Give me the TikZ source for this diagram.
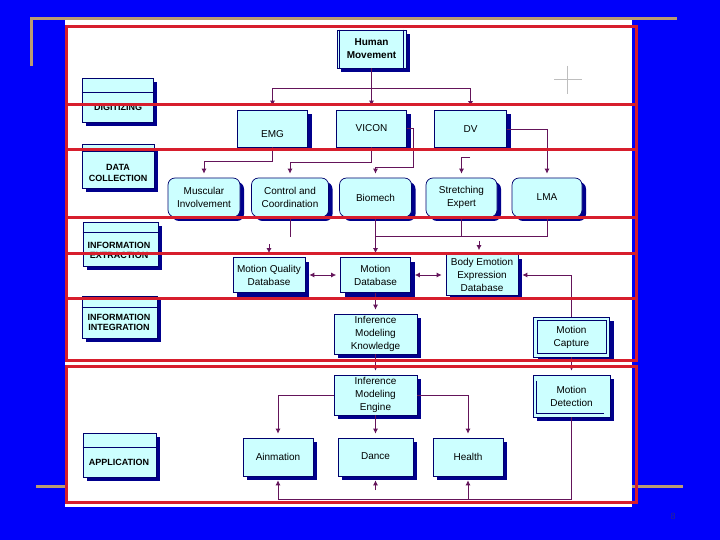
\documentclass[tikz,border=0pt]{standalone}
\usepackage{fontspec}
\setmainfont{Liberation Sans}
\usetikzlibrary{shadows,arrows.meta,calc}
\definecolor{bgblue}{RGB}{0,0,250}
\definecolor{boxc}{RGB}{204,255,255}
\definecolor{bordc}{RGB}{0,0,110}
\definecolor{shadc}{RGB}{0,0,140}
\definecolor{connc}{RGB}{100,20,90}
\definecolor{redc}{RGB}{215,30,45}
\definecolor{tanc}{RGB}{185,155,115}
\definecolor{crossc}{RGB}{190,190,190}
\definecolor{numc}{RGB}{40,40,140}
\begin{document}
\begin{tikzpicture}[x=1pt,y=-1pt,
 box/.style={draw=bordc, fill=boxc, line width=0.7pt, align=center, inner sep=1pt,
   font=\fontsize{10}{13}\selectfont,
   drop shadow={shadow xshift=4pt, shadow yshift=-4pt, fill=shadc, opacity=1}},
 rbox/.style={box, rounded corners=7pt},
 lbox/.style={box, inner sep=0pt},
 ltext/.style={font=\bfseries\fontsize{9}{10.5}\selectfont, align=center, inner sep=0pt},
 inl/.style={draw=bordc, line width=0.6pt},
 conn/.style={draw=connc, line width=0.8pt},
 arr/.style={conn, -{Latex[length=5pt,width=5pt]}, shorten >=4pt},
 darr/.style={conn, {Latex[length=5pt,width=5pt]}-{Latex[length=5pt,width=5pt]}, shorten >=4pt, shorten <=4pt},
 redl/.style={draw=redc, line width=3pt},
 tanl/.style={draw=tanc, line width=3pt},
]
\useasboundingbox (0,0) rectangle (720,540);
\fill[bgblue] (0,0) rectangle (720,540);
% tan decoration lines
\draw[tanl] (31,66) -- (31,19) -- (677,19);
\draw[tanl] (36,486) -- (683,486);
% white panel
\fill[white] (65,20) rectangle (632,507);
% crosshair
\draw[crossc, line width=0.6pt] (554,79) -- (582,79);
\draw[crossc, line width=0.6pt] (567,66) -- (567,94);

% left label boxes
\node[lbox, minimum width=71pt, minimum height=44pt] (digbox) at (117.5,100) {};
\draw[inl] (digbox.west |- 0,92) -- (digbox.east |- 0,92);
\node[ltext] (digt) at (118,107) {DIGITIZING};
\node[lbox, minimum width=72pt, minimum height=44pt] (dcbox) at (118,166) {};
\draw[inl] (dcbox.west |- 0,151) -- (dcbox.east |- 0,151);
\node[ltext] (dct) at (118,173) {DATA\\COLLECTION};
\node[lbox, minimum width=75pt, minimum height=44pt] (iebox) at (120.5,244) {};
\draw[inl] (iebox.west |- 0,232) -- (iebox.east |- 0,232);
\node[ltext] (iet) at (119,250.5) {INFORMATION\\EXTRACTION};
\node[lbox, minimum width=75pt, minimum height=42pt] (iibox) at (119.5,317) {};
\draw[inl] (iibox.west |- 0,307) -- (iibox.east |- 0,307);
\node[ltext] (iit) at (119,322.5) {INFORMATION\\INTEGRATION};
\node[lbox, minimum width=73pt, minimum height=44pt] (appbox) at (119.5,455) {};
\draw[inl] (appbox.west |- 0,447) -- (appbox.east |- 0,447);
\node[ltext] (appt) at (119,462) {APPLICATION};

% main nodes
\node[box, font=\bfseries\fontsize{10}{13}\selectfont, minimum width=69pt, minimum height=38pt] (hm) at (371.5,49) {Human\\Movement};
\draw[inl] ($(hm.north west)+(3,0)$) -- ($(hm.south west)+(3,0)$);
\draw[inl] ($(hm.north east)+(-3,0)$) -- ($(hm.south east)+(-3,0)$);

\node[box, minimum width=70pt, minimum height=37pt] (emg) at (272.5,128.5) {\raisebox{-6pt}[7pt][0pt]{EMG}};
\node[box, minimum width=70pt, minimum height=37pt] (vicon) at (371.5,128.5) {VICON};
\node[box, minimum width=72pt, minimum height=37pt] (dv) at (470.5,129) {DV};

\node[rbox, minimum width=72pt, minimum height=39pt] (mi) at (204,197.5) {Muscular\\Involvement};
\node[rbox, minimum width=77pt, minimum height=39pt] (cc) at (290,197.5) {Control and\\Coordination};
\node[rbox, minimum width=72pt, minimum height=39pt] (bio) at (375.5,197.5) {Biomech};
\node[rbox, minimum width=71pt, minimum height=39pt] (se) at (461.5,197.5) {Stretching\\Expert};
\node[rbox, minimum width=70pt, minimum height=39pt] (lma) at (547,197.5) {LMA};

\node[box, minimum width=72pt, minimum height=35pt] (mqd) at (269,275) {Motion Quality\\Database};
\node[box, minimum width=70pt, minimum height=35pt] (md) at (375.5,275) {Motion\\Database};
\node[box, minimum width=72pt, minimum height=41pt] (beed) at (482,275) {Body Emotion\\Expression\\Database};

\node[box, minimum width=83pt, minimum height=40pt] (imk) at (375.5,334) {Inference\\Modeling\\Knowledge};
\node[box, minimum width=76pt, minimum height=40pt] (mc) at (571.5,337) {Motion\\Capture};
\draw[inl] ($(mc.north west)+(4,4)$) rectangle ($(mc.south east)+(-4,-4)$);

\node[box, minimum width=83pt, minimum height=40pt] (ime) at (375.5,395) {Inference\\Modeling\\Engine};
\node[box, minimum width=77pt, minimum height=42pt] (mdet) at (571.5,396) {Motion\\Detection};
\draw[inl] ($(mdet.north west)+(4,6)$) -- ($(mdet.south west)+(4,-4)$) -- ($(mdet.south east)+(-6,-4)$);

\node[box, minimum width=70pt, minimum height=38pt] (anim) at (278,457) {Ainmation};
\node[box, minimum width=75pt, minimum height=38pt] (dance) at (375.5,457) {\raisebox{1.5pt}[7pt][0pt]{Dance}};
\node[box, minimum width=70pt, minimum height=38pt] (health) at (468,457) {Health};

% connectors
\coordinate (j1) at (371.5,88);
\draw[arr] (hm.south) -- (vicon.north);
\draw[arr] (j1) -| (emg.north);
\draw[arr] (j1) -| (dv.north);

\coordinate (b1) at (204,161);
\draw[arr] (emg.south) |- (b1) -- (mi.north);
\coordinate (b2) at (290,162);
\draw[arr] (vicon.south) |- (b2) -- (cc.north);
\coordinate (b3) at (413,167);
\draw[arr] (vicon.east) -| (b3) -| (bio.north);
\draw[arr] (dv.east) -| (lma.north);
\coordinate (s0) at (470,157);
\draw[arr] (s0) -| (se.north);

\coordinate (s1) at (290,237);
\draw[conn] (cc.south) -- (s1);
\coordinate (s2) at (269,244);
\draw[arr] (s2) -- (mqd.north);
\draw[arr] (bio.south) -- (md.north);
\coordinate (h1) at (375.5,236);
\draw[conn] (lma.south) |- (h1);
\draw[conn] (se.south) -- (se.south |- h1);
\coordinate (s3) at (479,241);
\draw[arr] (s3) -- (s3 |- beed.north);

\draw[darr] (mqd.east) -- (md.west);
\draw[darr] (md.east) -- (beed.west);
\draw[arr] (mc.north) |- (beed.east);

\draw[arr] (md.south) -- (imk.north);
\draw[arr] (imk.south) -- (ime.north);
\draw[arr] (mc.south) -- (mdet.north);

\draw[arr] (ime.west) -| (anim.north);
\draw[arr] (ime.east) -| (health.north);
\draw[arr] (ime.south) -- (dance.north);

\coordinate (h2) at (571.5,499);
\draw[conn] (mdet.south) -- (h2) -- (anim.south |- h2);
\draw[arr] (anim.south |- h2) -- (anim.south);
\draw[arr] (health.south |- h2) -- (health.south);
\coordinate (s4) at (375.5,490);
\draw[arr] (s4) -- (dance.south);

% red frames
\draw[redl] (66,27) rectangle (636,360);
\foreach \yy in {105,150,218,253,298} \draw[redl] (66,\yy) -- (636,\yy);
\draw[redl] (66,366) rectangle (636,502);

% page number
\node[text=numc, font=\fontsize{9}{10}\selectfont, inner sep=0pt] (pnum) at (673,516) {8};
\end{tikzpicture}
\end{document}
